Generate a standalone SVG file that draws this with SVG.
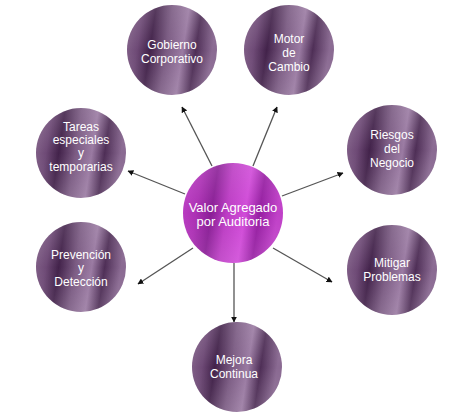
<svg xmlns="http://www.w3.org/2000/svg" width="472" height="418" viewBox="0 0 472 418">
<defs>
<linearGradient id="gOuter" x1="0" y1="0" x2="1" y2="0.15">
<stop offset="0" stop-color="#8a6a90"/>
<stop offset="0.18" stop-color="#6e4a76"/>
<stop offset="0.32" stop-color="#42224a"/>
<stop offset="0.5" stop-color="#7a5a82"/>
<stop offset="0.68" stop-color="#9a7aa2"/>
<stop offset="0.82" stop-color="#4e2e56"/>
<stop offset="1" stop-color="#8a6a92"/>
</linearGradient>
<linearGradient id="gCenter" x1="0" y1="0" x2="1" y2="0.15">
<stop offset="0" stop-color="#c040c8"/>
<stop offset="0.2" stop-color="#ac30b4"/>
<stop offset="0.35" stop-color="#8a1e96"/>
<stop offset="0.5" stop-color="#bc3cc4"/>
<stop offset="0.68" stop-color="#d04ad8"/>
<stop offset="0.82" stop-color="#961ea2"/>
<stop offset="1" stop-color="#c040c8"/>
</linearGradient>
<linearGradient id="gShade" x1="0" y1="0" x2="0" y2="1">
<stop offset="0" stop-color="#ffffff" stop-opacity="0.12"/>
<stop offset="0.5" stop-color="#ffffff" stop-opacity="0"/>
<stop offset="1" stop-color="#ffffff" stop-opacity="0.1"/>
</linearGradient>
<marker id="arr" viewBox="0 0 10 10" refX="9" refY="5" markerWidth="6" markerHeight="6" orient="auto" markerUnits="userSpaceOnUse">
<path d="M0,0 L10,5 L0,10 z" fill="#111"/>
</marker>
</defs>
<style>
.outer{fill:url(#gOuter);}
.center{fill:url(#gCenter);}
.shade{fill:url(#gShade);}
.lbl{font-family:"Liberation Sans",Arial,sans-serif;font-size:12px;fill:#ffffff;text-anchor:middle;}
.clbl{font-family:"Liberation Sans",Arial,sans-serif;font-size:13px;fill:#ffffff;text-anchor:middle;}
.con{stroke:#555;stroke-width:1.3;fill:none;marker-end:url(#arr);}
</style>
<rect width="472" height="418" fill="#ffffff"/>
<g id="connectors">
<line class="con" x1="212" y1="166" x2="182" y2="107"/>
<line class="con" x1="253" y1="166" x2="277" y2="107"/>
<line class="con" x1="185" y1="194" x2="128" y2="171"/>
<line class="con" x1="282" y1="196" x2="343" y2="173"/>
<line class="con" x1="193" y1="248" x2="138" y2="284"/>
<line class="con" x1="273" y1="248" x2="332" y2="282"/>
<line class="con" x1="234" y1="263" x2="234" y2="322"/>
</g>
<g id="gobierno">
<circle class="outer" cx="172" cy="50" r="45"/><circle class="shade" cx="172" cy="50" r="45"/>
<text class="lbl" x="172" y="49">Gobierno</text><text class="lbl" x="172" y="63">Corporativo</text>
</g>
<g id="motor">
<circle class="outer" cx="289" cy="50" r="45"/><circle class="shade" cx="289" cy="50" r="45"/>
<text class="lbl" x="289" y="43">Motor</text><text class="lbl" x="289" y="57">de</text><text class="lbl" x="289" y="71">Cambio</text>
</g>
<g id="tareas">
<circle class="outer" cx="81" cy="153" r="45"/><circle class="shade" cx="81" cy="153" r="45"/>
<text class="lbl" x="81" y="131">Tareas</text><text class="lbl" x="81" y="144">especiales</text><text class="lbl" x="81" y="157">y</text><text class="lbl" x="81" y="171">temporarias</text>
</g>
<g id="riesgos">
<circle class="outer" cx="392" cy="150" r="45"/><circle class="shade" cx="392" cy="150" r="45"/>
<text class="lbl" x="392" y="139">Riesgos</text><text class="lbl" x="392" y="153">del</text><text class="lbl" x="392" y="167">Negocio</text>
</g>
<g id="valor">
<circle class="center" cx="233" cy="213" r="50"/><circle class="shade" cx="233" cy="213" r="50"/>
<text class="clbl" x="233" y="212">Valor Agregado</text><text class="clbl" x="233" y="226">por Auditoria</text>
</g>
<g id="prevencion">
<circle class="outer" cx="81" cy="267" r="45"/><circle class="shade" cx="81" cy="267" r="45"/>
<text class="lbl" x="81" y="259">Prevención</text><text class="lbl" x="81" y="272">y</text><text class="lbl" x="81" y="286">Detección</text>
</g>
<g id="mitigar">
<circle class="outer" cx="392" cy="270" r="45"/><circle class="shade" cx="392" cy="270" r="45"/>
<text class="lbl" x="392" y="267">Mitigar</text><text class="lbl" x="392" y="281">Problemas</text>
</g>
<g id="mejora">
<circle class="outer" cx="237" cy="367" r="45"/><circle class="shade" cx="237" cy="367" r="45"/>
<text class="lbl" x="234" y="364">Mejora</text><text class="lbl" x="234" y="378">Continua</text>
</g>
</svg>
